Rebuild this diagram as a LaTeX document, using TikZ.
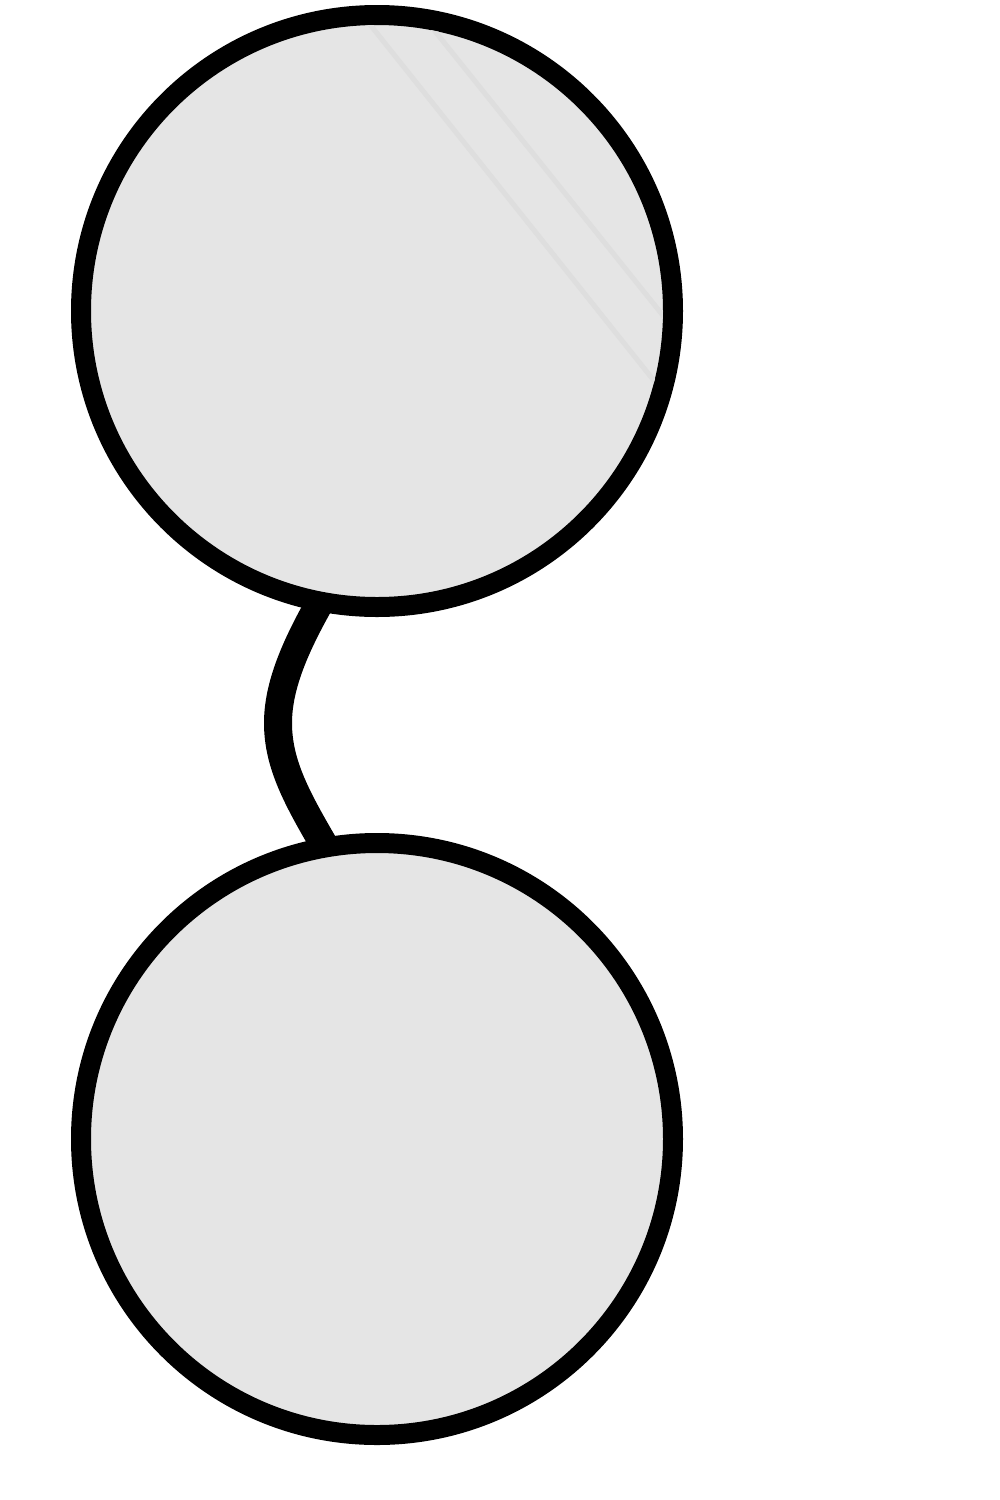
\documentclass[tikz,border=0pt]{standalone}
\usetikzlibrary{backgrounds}
\definecolor{ballfill}{HTML}{E5E5E5}
\definecolor{glint}{HTML}{DEDEDE}
\tikzset{
  ball/.style={circle, draw=black, line width=20pt, fill=ballfill, inner sep=0pt, outer sep=0pt, minimum size=592pt},
  link/.style={draw=black, line width=28pt},
  glintline/.style={draw=glint, line width=5pt}
}
\begin{document}
\begin{tikzpicture}[x=1pt,y=-1pt]
\useasboundingbox (0,0) rectangle (1000,1500);
\node[ball] (top) at (377,311) {};
\node[ball] (bot) at (377,1139) {};
\begin{scope}
  \clip (377,311) circle (286pt);
  \draw[glintline] (368,22) -- (655,382);
  \draw[glintline] (430,25) -- (665,318);
\end{scope}
\begin{scope}[on background layer]
  \fill[white] (0,0) rectangle (1000,1500);
  \coordinate (mid) at (278,723);
  \draw[link] (top.-101) .. controls (296,645) and (278,685) .. (mid)
              .. controls (278,765) and (298,800) .. (bot.100);
\end{scope}
\end{tikzpicture}
\end{document}
